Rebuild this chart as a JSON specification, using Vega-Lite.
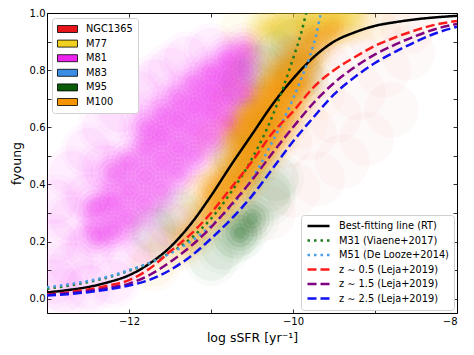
{
  "$schema": "https://vega.github.io/schema/vega-lite/v6.json",
  "width": 410,
  "height": 300,
  "autosize": {"type": "none"},
  "padding": {"left": 47, "top": 13, "right": 17, "bottom": 42},
  "background": "white",
  "config": {
    "font": "DejaVu Sans",
    "view": {"stroke": "black", "strokeWidth": 1},
    "axis": {"domain": false, "grid": false, "labelFont": "DejaVu Sans", "labelFontSize": 10, "labelColor": "black", "tickColor": "black", "tickWidth": 0.8, "titleFont": "DejaVu Sans", "titleFontWeight": "normal", "titleColor": "black"},
    "legend": {"labelFont": "DejaVu Sans", "labelFontSize": 9.8, "labelColor": "black", "fillColor": "white", "strokeColor": "#d0d0d0", "cornerRadius": 3, "title": null}
  },
  "datasets": {
    "clouds": [
      {"g": "NGC1365", "l": "f", "x": -10.3, "y": 0.3}, {"g": "NGC1365", "l": "f", "x": -10.0, "y": 0.38}, {"g": "NGC1365", "l": "f", "x": -9.7, "y": 0.42}, {"g": "NGC1365", "l": "f", "x": -9.4, "y": 0.48}, {"g": "NGC1365", "l": "f", "x": -9.1, "y": 0.56}, {"g": "NGC1365", "l": "f", "x": -8.8, "y": 0.66}, {"g": "NGC1365", "l": "f", "x": -10.1, "y": 0.55}, {"g": "NGC1365", "l": "f", "x": -9.8, "y": 0.58}, {"g": "NGC1365", "l": "f", "x": -9.5, "y": 0.64}, {"g": "NGC1365", "l": "f", "x": -9.2, "y": 0.72}, {"g": "NGC1365", "l": "f", "x": -8.9, "y": 0.8}, {"g": "NGC1365", "l": "f", "x": -8.6, "y": 0.86}, {"g": "NGC1365", "l": "f", "x": -9.9, "y": 0.75}, {"g": "NGC1365", "l": "f", "x": -9.6, "y": 0.8}, {"g": "NGC1365", "l": "f", "x": -9.3, "y": 0.87}, {"g": "NGC1365", "l": "f", "x": -9.0, "y": 0.92}, {"g": "NGC1365", "l": "f", "x": -8.6, "y": 0.95},
      {"g": "M77", "l": "h", "x": -10.6, "y": 0.95}, {"g": "M77", "l": "h", "x": -10.3, "y": 0.93}, {"g": "M77", "l": "h", "x": -10.0, "y": 0.95}, {"g": "M77", "l": "h", "x": -9.7, "y": 0.96}, {"g": "M77", "l": "h", "x": -9.4, "y": 0.97}, {"g": "M77", "l": "h", "x": -9.1, "y": 0.98},
      {"g": "M81", "l": "h", "x": -12.9, "y": 0.06}, {"g": "M81", "l": "h", "x": -12.9, "y": 0.2}, {"g": "M81", "l": "h", "x": -12.9, "y": 0.34}, {"g": "M81", "l": "h", "x": -12.7, "y": 0.12}, {"g": "M81", "l": "h", "x": -12.7, "y": 0.28}, {"g": "M81", "l": "h", "x": -12.7, "y": 0.44}, {"g": "M81", "l": "h", "x": -12.5, "y": 0.18}, {"g": "M81", "l": "h", "x": -12.5, "y": 0.36}, {"g": "M81", "l": "h", "x": -12.5, "y": 0.52}, {"g": "M81", "l": "h", "x": -12.3, "y": 0.28}, {"g": "M81", "l": "h", "x": -12.3, "y": 0.46}, {"g": "M81", "l": "h", "x": -12.3, "y": 0.6}, {"g": "M81", "l": "h", "x": -12.1, "y": 0.66}, {"g": "M81", "l": "h", "x": -11.9, "y": 0.72}, {"g": "M81", "l": "h", "x": -11.7, "y": 0.76}, {"g": "M81", "l": "h", "x": -11.5, "y": 0.8}, {"g": "M81", "l": "h", "x": -11.3, "y": 0.84}, {"g": "M81", "l": "h", "x": -11.0, "y": 0.87}, {"g": "M81", "l": "h", "x": -12.8, "y": 0.03}, {"g": "M81", "l": "h", "x": -12.5, "y": 0.04}, {"g": "M81", "l": "h", "x": -12.2, "y": 0.06}, {"g": "M81", "l": "h", "x": -12.0, "y": 0.14}, {"g": "M81", "l": "h", "x": -11.8, "y": 0.2}, {"g": "M81", "l": "h", "x": -11.5, "y": 0.26},
      {"g": "M83", "l": "f", "x": -10.0, "y": 0.83}, {"g": "M83", "l": "f", "x": -9.85, "y": 0.9},
      {"g": "M95", "l": "h", "x": -11.0, "y": 0.14}, {"g": "M95", "l": "h", "x": -10.85, "y": 0.18}, {"g": "M95", "l": "h", "x": -10.7, "y": 0.22}, {"g": "M95", "l": "h", "x": -10.3, "y": 0.38}, {"g": "M95", "l": "h", "x": -10.2, "y": 0.42}, {"g": "M95", "l": "h", "x": -10.7, "y": 0.5}, {"g": "M95", "l": "h", "x": -10.5, "y": 0.62}, {"g": "M95", "l": "h", "x": -10.6, "y": 0.76}, {"g": "M95", "l": "h", "x": -10.4, "y": 0.81}, {"g": "M95", "l": "h", "x": -10.2, "y": 0.86}, {"g": "M95", "l": "h", "x": -10.0, "y": 0.9}, {"g": "M95", "l": "h", "x": -9.9, "y": 0.78}, {"g": "M95", "l": "h", "x": -11.7, "y": 0.24}, {"g": "M95", "l": "h", "x": -11.4, "y": 0.3}, {"g": "M95", "l": "h", "x": -10.3, "y": 0.35},
      {"g": "M100", "l": "h", "x": -11.7, "y": 0.12}, {"g": "M100", "l": "h", "x": -11.5, "y": 0.18}, {"g": "M100", "l": "h", "x": -11.3, "y": 0.26}, {"g": "M100", "l": "h", "x": -11.1, "y": 0.36}, {"g": "M100", "l": "h", "x": -10.9, "y": 0.55}, {"g": "M100", "l": "h", "x": -10.7, "y": 0.68}, {"g": "M100", "l": "h", "x": -10.5, "y": 0.8}, {"g": "M100", "l": "h", "x": -10.3, "y": 0.88}, {"g": "M100", "l": "h", "x": -10.0, "y": 0.95}, {"g": "M100", "l": "h", "x": -9.7, "y": 0.97}, {"g": "M100", "l": "f", "x": -9.3, "y": 0.98}, {"g": "M100", "l": "f", "x": -8.9, "y": 0.99}, {"g": "M100", "l": "f", "x": -8.5, "y": 0.99}, {"g": "M100", "l": "f", "x": -9.9, "y": 0.62}, {"g": "M100", "l": "f", "x": -9.7, "y": 0.72},
      {"g": "M77", "l": "c", "x": -10.3, "y": 0.95}, {"g": "M77", "l": "c", "x": -10.1, "y": 0.96}, {"g": "M77", "l": "c", "x": -9.9, "y": 0.97}, {"g": "M77", "l": "c", "x": -9.7, "y": 0.98}, {"g": "M77", "l": "c", "x": -9.5, "y": 0.985}, {"g": "M77", "l": "c", "x": -9.3, "y": 0.99},
      {"g": "M81", "l": "c", "x": -12.4, "y": 0.22}, {"g": "M81", "l": "c", "x": -12.4, "y": 0.32},
      {"g": "M81", "l": "c", "x": -12.2, "y": 0.24}, {"g": "M81", "l": "c", "x": -12.2, "y": 0.34}, {"g": "M81", "l": "c", "x": -12.2, "y": 0.44},
      {"g": "M81", "l": "c", "x": -12.0, "y": 0.28}, {"g": "M81", "l": "c", "x": -12.0, "y": 0.38}, {"g": "M81", "l": "c", "x": -12.0, "y": 0.48},
      {"g": "M81", "l": "c", "x": -11.8, "y": 0.33}, {"g": "M81", "l": "c", "x": -11.8, "y": 0.43}, {"g": "M81", "l": "c", "x": -11.8, "y": 0.53}, {"g": "M81", "l": "c", "x": -11.8, "y": 0.6},
      {"g": "M81", "l": "c", "x": -11.6, "y": 0.38}, {"g": "M81", "l": "c", "x": -11.6, "y": 0.48}, {"g": "M81", "l": "c", "x": -11.6, "y": 0.57}, {"g": "M81", "l": "c", "x": -11.6, "y": 0.65},
      {"g": "M81", "l": "c", "x": -11.4, "y": 0.44}, {"g": "M81", "l": "c", "x": -11.4, "y": 0.53}, {"g": "M81", "l": "c", "x": -11.4, "y": 0.62}, {"g": "M81", "l": "c", "x": -11.4, "y": 0.7},
      {"g": "M81", "l": "c", "x": -11.2, "y": 0.5}, {"g": "M81", "l": "c", "x": -11.2, "y": 0.59}, {"g": "M81", "l": "c", "x": -11.2, "y": 0.67}, {"g": "M81", "l": "c", "x": -11.2, "y": 0.75},
      {"g": "M81", "l": "c", "x": -11.0, "y": 0.56}, {"g": "M81", "l": "c", "x": -11.0, "y": 0.65}, {"g": "M81", "l": "c", "x": -11.0, "y": 0.72}, {"g": "M81", "l": "c", "x": -11.0, "y": 0.79},
      {"g": "M81", "l": "c", "x": -10.8, "y": 0.62}, {"g": "M81", "l": "c", "x": -10.8, "y": 0.7}, {"g": "M81", "l": "c", "x": -10.8, "y": 0.77}, {"g": "M81", "l": "c", "x": -10.8, "y": 0.84},
      {"g": "M81", "l": "c", "x": -10.6, "y": 0.72}, {"g": "M81", "l": "c", "x": -10.6, "y": 0.8}, {"g": "M81", "l": "c", "x": -10.6, "y": 0.87},
      {"g": "M95", "l": "c", "x": -10.65, "y": 0.23}, {"g": "M95", "l": "c", "x": -10.5, "y": 0.28},
      {"g": "M100", "l": "c", "x": -11.3, "y": 0.2}, {"g": "M100", "l": "c", "x": -11.15, "y": 0.25}, {"g": "M100", "l": "c", "x": -11.0, "y": 0.3}, {"g": "M100", "l": "c", "x": -11.0, "y": 0.38}, {"g": "M100", "l": "c", "x": -10.85, "y": 0.34}, {"g": "M100", "l": "c", "x": -10.85, "y": 0.43}, {"g": "M100", "l": "c", "x": -10.7, "y": 0.38}, {"g": "M100", "l": "c", "x": -10.7, "y": 0.47}, {"g": "M100", "l": "c", "x": -10.7, "y": 0.56}, {"g": "M100", "l": "c", "x": -10.55, "y": 0.44}, {"g": "M100", "l": "c", "x": -10.55, "y": 0.53}, {"g": "M100", "l": "c", "x": -10.55, "y": 0.62}, {"g": "M100", "l": "c", "x": -10.4, "y": 0.5}, {"g": "M100", "l": "c", "x": -10.4, "y": 0.59}, {"g": "M100", "l": "c", "x": -10.4, "y": 0.68}, {"g": "M100", "l": "c", "x": -10.25, "y": 0.56}, {"g": "M100", "l": "c", "x": -10.25, "y": 0.65}, {"g": "M100", "l": "c", "x": -10.25, "y": 0.74}, {"g": "M100", "l": "c", "x": -10.1, "y": 0.64}, {"g": "M100", "l": "c", "x": -10.1, "y": 0.73}, {"g": "M100", "l": "c", "x": -10.1, "y": 0.82}, {"g": "M100", "l": "c", "x": -9.95, "y": 0.74}, {"g": "M100", "l": "c", "x": -9.95, "y": 0.83}, {"g": "M100", "l": "c", "x": -9.8, "y": 0.84}, {"g": "M100", "l": "c", "x": -9.8, "y": 0.91}, {"g": "M100", "l": "c", "x": -9.65, "y": 0.92}, {"g": "M100", "l": "c", "x": -9.5, "y": 0.95},
      {"g": "M100", "l": "c", "x": -10.78, "y": 0.4}, {"g": "M100", "l": "c", "x": -10.62, "y": 0.5}, {"g": "M100", "l": "c", "x": -10.47, "y": 0.56}, {"g": "M100", "l": "c", "x": -10.33, "y": 0.62}, {"g": "M100", "l": "c", "x": -10.18, "y": 0.69}, {"g": "M100", "l": "c", "x": -10.03, "y": 0.77}, {"g": "M100", "l": "c", "x": -9.88, "y": 0.86},
      {"g": "M100", "l": "c", "x": -10.92, "y": 0.33}, {"g": "M100", "l": "c", "x": -10.62, "y": 0.42}, {"g": "M100", "l": "c", "x": -10.48, "y": 0.48}, {"g": "M100", "l": "c", "x": -10.32, "y": 0.54}, {"g": "M100", "l": "c", "x": -10.62, "y": 0.6}, {"g": "M100", "l": "c", "x": -10.48, "y": 0.65}, {"g": "M100", "l": "c", "x": -10.32, "y": 0.71}, {"g": "M100", "l": "c", "x": -10.18, "y": 0.6}, {"g": "M100", "l": "c", "x": -10.18, "y": 0.77}, {"g": "M100", "l": "c", "x": -10.03, "y": 0.68}, {"g": "M100", "l": "c", "x": -9.9, "y": 0.76}
    ],
    "lines": [
      {"s": "Best-fitting line (RT)", "x": -13, "y": 0.022}, {"s": "Best-fitting line (RT)", "x": -12.75, "y": 0.03}, {"s": "Best-fitting line (RT)", "x": -12.5, "y": 0.041}, {"s": "Best-fitting line (RT)", "x": -12.25, "y": 0.058}, {"s": "Best-fitting line (RT)", "x": -12, "y": 0.082}, {"s": "Best-fitting line (RT)", "x": -11.75, "y": 0.123}, {"s": "Best-fitting line (RT)", "x": -11.5, "y": 0.18}, {"s": "Best-fitting line (RT)", "x": -11.25, "y": 0.26}, {"s": "Best-fitting line (RT)", "x": -11, "y": 0.36}, {"s": "Best-fitting line (RT)", "x": -10.75, "y": 0.47}, {"s": "Best-fitting line (RT)", "x": -10.5, "y": 0.575}, {"s": "Best-fitting line (RT)", "x": -10.25, "y": 0.68}, {"s": "Best-fitting line (RT)", "x": -10, "y": 0.77}, {"s": "Best-fitting line (RT)", "x": -9.75, "y": 0.845}, {"s": "Best-fitting line (RT)", "x": -9.5, "y": 0.9}, {"s": "Best-fitting line (RT)", "x": -9.25, "y": 0.932}, {"s": "Best-fitting line (RT)", "x": -9, "y": 0.955}, {"s": "Best-fitting line (RT)", "x": -8.75, "y": 0.968}, {"s": "Best-fitting line (RT)", "x": -8.5, "y": 0.978}, {"s": "Best-fitting line (RT)", "x": -8.25, "y": 0.985}, {"s": "Best-fitting line (RT)", "x": -8, "y": 0.99},
      {"s": "M31 (Viaene+2017)", "x": -13, "y": 0.035}, {"s": "M31 (Viaene+2017)", "x": -12.75, "y": 0.045}, {"s": "M31 (Viaene+2017)", "x": -12.5, "y": 0.058}, {"s": "M31 (Viaene+2017)", "x": -12.25, "y": 0.075}, {"s": "M31 (Viaene+2017)", "x": -12, "y": 0.098}, {"s": "M31 (Viaene+2017)", "x": -11.75, "y": 0.125}, {"s": "M31 (Viaene+2017)", "x": -11.5, "y": 0.16}, {"s": "M31 (Viaene+2017)", "x": -11.25, "y": 0.21}, {"s": "M31 (Viaene+2017)", "x": -11, "y": 0.28}, {"s": "M31 (Viaene+2017)", "x": -10.75, "y": 0.375}, {"s": "M31 (Viaene+2017)", "x": -10.5, "y": 0.49}, {"s": "M31 (Viaene+2017)", "x": -10.25, "y": 0.64}, {"s": "M31 (Viaene+2017)", "x": -10, "y": 0.84}, {"s": "M31 (Viaene+2017)", "x": -9.9, "y": 0.93}, {"s": "M31 (Viaene+2017)", "x": -9.84, "y": 1.0}, {"s": "M31 (Viaene+2017)", "x": -9.8, "y": 1.05},
      {"s": "M51 (De Looze+2014)", "x": -13, "y": 0.04}, {"s": "M51 (De Looze+2014)", "x": -12.75, "y": 0.05}, {"s": "M51 (De Looze+2014)", "x": -12.5, "y": 0.062}, {"s": "M51 (De Looze+2014)", "x": -12.25, "y": 0.078}, {"s": "M51 (De Looze+2014)", "x": -12, "y": 0.1}, {"s": "M51 (De Looze+2014)", "x": -11.75, "y": 0.125}, {"s": "M51 (De Looze+2014)", "x": -11.5, "y": 0.158}, {"s": "M51 (De Looze+2014)", "x": -11.25, "y": 0.2}, {"s": "M51 (De Looze+2014)", "x": -11, "y": 0.255}, {"s": "M51 (De Looze+2014)", "x": -10.75, "y": 0.325}, {"s": "M51 (De Looze+2014)", "x": -10.5, "y": 0.42}, {"s": "M51 (De Looze+2014)", "x": -10.25, "y": 0.55}, {"s": "M51 (De Looze+2014)", "x": -10, "y": 0.7}, {"s": "M51 (De Looze+2014)", "x": -9.9, "y": 0.77}, {"s": "M51 (De Looze+2014)", "x": -9.8, "y": 0.845}, {"s": "M51 (De Looze+2014)", "x": -9.72, "y": 0.92}, {"s": "M51 (De Looze+2014)", "x": -9.66, "y": 1.0}, {"s": "M51 (De Looze+2014)", "x": -9.62, "y": 1.05},
      {"s": "z ∼ 0.5 (Leja+2019)", "x": -13, "y": 0.015}, {"s": "z ∼ 0.5 (Leja+2019)", "x": -12.75, "y": 0.022}, {"s": "z ∼ 0.5 (Leja+2019)", "x": -12.5, "y": 0.032}, {"s": "z ∼ 0.5 (Leja+2019)", "x": -12.25, "y": 0.046}, {"s": "z ∼ 0.5 (Leja+2019)", "x": -12, "y": 0.065}, {"s": "z ∼ 0.5 (Leja+2019)", "x": -11.75, "y": 0.105}, {"s": "z ∼ 0.5 (Leja+2019)", "x": -11.5, "y": 0.165}, {"s": "z ∼ 0.5 (Leja+2019)", "x": -11.25, "y": 0.225}, {"s": "z ∼ 0.5 (Leja+2019)", "x": -11, "y": 0.3}, {"s": "z ∼ 0.5 (Leja+2019)", "x": -10.75, "y": 0.39}, {"s": "z ∼ 0.5 (Leja+2019)", "x": -10.5, "y": 0.48}, {"s": "z ∼ 0.5 (Leja+2019)", "x": -10.25, "y": 0.58}, {"s": "z ∼ 0.5 (Leja+2019)", "x": -10, "y": 0.655}, {"s": "z ∼ 0.5 (Leja+2019)", "x": -9.75, "y": 0.74}, {"s": "z ∼ 0.5 (Leja+2019)", "x": -9.5, "y": 0.8}, {"s": "z ∼ 0.5 (Leja+2019)", "x": -9.25, "y": 0.845}, {"s": "z ∼ 0.5 (Leja+2019)", "x": -9, "y": 0.885}, {"s": "z ∼ 0.5 (Leja+2019)", "x": -8.75, "y": 0.915}, {"s": "z ∼ 0.5 (Leja+2019)", "x": -8.5, "y": 0.94}, {"s": "z ∼ 0.5 (Leja+2019)", "x": -8.25, "y": 0.96}, {"s": "z ∼ 0.5 (Leja+2019)", "x": -8, "y": 0.972},
      {"s": "z ∼ 1.5 (Leja+2019)", "x": -13, "y": 0.013}, {"s": "z ∼ 1.5 (Leja+2019)", "x": -12.75, "y": 0.019}, {"s": "z ∼ 1.5 (Leja+2019)", "x": -12.5, "y": 0.027}, {"s": "z ∼ 1.5 (Leja+2019)", "x": -12.25, "y": 0.038}, {"s": "z ∼ 1.5 (Leja+2019)", "x": -12, "y": 0.053}, {"s": "z ∼ 1.5 (Leja+2019)", "x": -11.75, "y": 0.083}, {"s": "z ∼ 1.5 (Leja+2019)", "x": -11.5, "y": 0.128}, {"s": "z ∼ 1.5 (Leja+2019)", "x": -11.25, "y": 0.183}, {"s": "z ∼ 1.5 (Leja+2019)", "x": -11, "y": 0.25}, {"s": "z ∼ 1.5 (Leja+2019)", "x": -10.75, "y": 0.33}, {"s": "z ∼ 1.5 (Leja+2019)", "x": -10.5, "y": 0.415}, {"s": "z ∼ 1.5 (Leja+2019)", "x": -10.25, "y": 0.51}, {"s": "z ∼ 1.5 (Leja+2019)", "x": -10, "y": 0.6}, {"s": "z ∼ 1.5 (Leja+2019)", "x": -9.75, "y": 0.685}, {"s": "z ∼ 1.5 (Leja+2019)", "x": -9.5, "y": 0.755}, {"s": "z ∼ 1.5 (Leja+2019)", "x": -9.25, "y": 0.81}, {"s": "z ∼ 1.5 (Leja+2019)", "x": -9, "y": 0.855}, {"s": "z ∼ 1.5 (Leja+2019)", "x": -8.75, "y": 0.89}, {"s": "z ∼ 1.5 (Leja+2019)", "x": -8.5, "y": 0.92}, {"s": "z ∼ 1.5 (Leja+2019)", "x": -8.25, "y": 0.945}, {"s": "z ∼ 1.5 (Leja+2019)", "x": -8, "y": 0.962},
      {"s": "z ∼ 2.5 (Leja+2019)", "x": -13, "y": 0.011}, {"s": "z ∼ 2.5 (Leja+2019)", "x": -12.75, "y": 0.016}, {"s": "z ∼ 2.5 (Leja+2019)", "x": -12.5, "y": 0.023}, {"s": "z ∼ 2.5 (Leja+2019)", "x": -12.25, "y": 0.033}, {"s": "z ∼ 2.5 (Leja+2019)", "x": -12, "y": 0.046}, {"s": "z ∼ 2.5 (Leja+2019)", "x": -11.75, "y": 0.066}, {"s": "z ∼ 2.5 (Leja+2019)", "x": -11.5, "y": 0.1}, {"s": "z ∼ 2.5 (Leja+2019)", "x": -11.25, "y": 0.148}, {"s": "z ∼ 2.5 (Leja+2019)", "x": -11, "y": 0.21}, {"s": "z ∼ 2.5 (Leja+2019)", "x": -10.75, "y": 0.28}, {"s": "z ∼ 2.5 (Leja+2019)", "x": -10.5, "y": 0.36}, {"s": "z ∼ 2.5 (Leja+2019)", "x": -10.25, "y": 0.455}, {"s": "z ∼ 2.5 (Leja+2019)", "x": -10, "y": 0.55}, {"s": "z ∼ 2.5 (Leja+2019)", "x": -9.75, "y": 0.635}, {"s": "z ∼ 2.5 (Leja+2019)", "x": -9.5, "y": 0.715}, {"s": "z ∼ 2.5 (Leja+2019)", "x": -9.25, "y": 0.775}, {"s": "z ∼ 2.5 (Leja+2019)", "x": -9, "y": 0.825}, {"s": "z ∼ 2.5 (Leja+2019)", "x": -8.75, "y": 0.865}, {"s": "z ∼ 2.5 (Leja+2019)", "x": -8.5, "y": 0.9}, {"s": "z ∼ 2.5 (Leja+2019)", "x": -8.25, "y": 0.93}, {"s": "z ∼ 2.5 (Leja+2019)", "x": -8, "y": 0.952}
    ]
  },
  "layer": [
    {
      "data": {"name": "clouds"},
      "mark": {"type": "circle", "size": 3000, "opacity": 0.028, "clip": true},
      "encoding": {
        "x": {"field": "x", "type": "quantitative", "scale": {"domain": [-13, -8], "nice": false, "zero": false},
          "axis": {"values": [-13, -12, -11, -10, -9, -8], "labelExpr": "datum.value % 2 === 0 ? datum.label : ''", "tickSize": -4, "labelPadding": 7, "title": "log sSFR [yr⁻¹]", "titleFontSize": 12.5, "titlePadding": 5}},
        "y": {"field": "y", "type": "quantitative", "scale": {"domain": [-0.05, 1.0], "nice": false, "zero": false},
          "axis": {"values": [0, 0.1, 0.2, 0.3, 0.4, 0.5, 0.6, 0.7, 0.8, 0.9, 1], "labelExpr": "round(datum.value * 10) % 2 === 0 ? format(datum.value, '.1f') : ''", "tickSize": -4, "labelPadding": 6, "title": "fyoung", "titleFontSize": 12.5, "titlePadding": 6}},
        "fill": {"field": "g", "type": "nominal",
          "scale": {"domain": ["NGC1365", "M77", "M81", "M83", "M95", "M100"], "range": ["#e8161c", "#f2d020", "#ee22ee", "#3a8ee6", "#0a5c0a", "#f39400"]},
          "legend": {"orient": "top-left", "offset": 5, "symbolType": "M-1,-0.35H1V0.35H-1Z", "symbolSize": 400, "symbolOpacity": 1, "symbolStrokeColor": "black", "symbolStrokeWidth": 0.8, "clipHeight": 12, "rowPadding": 2.6, "labelOffset": 8, "padding": 5,
            "encode": {"symbols": {"update": {"opacity": {"value": 1}, "fillOpacity": {"value": 1}, "stroke": {"value": "black"}, "strokeWidth": {"value": 0.8}}}}}}
      }
    },
    {
      "data": {"name": "clouds"},
      "transform": [{"filter": "datum.l !== 'f'"}],
      "mark": {"type": "circle", "size": 2000, "opacity": 0.05, "clip": true},
      "encoding": {
        "x": {"field": "x", "type": "quantitative", "axis": null},
        "y": {"field": "y", "type": "quantitative", "axis": null},
        "fill": {"field": "g", "type": "nominal"}
      }
    },
    {
      "data": {"name": "clouds"},
      "transform": [{"filter": "datum.l === 'c'"}],
      "mark": {"type": "circle", "size": 1300, "opacity": 0.08, "clip": true},
      "encoding": {
        "x": {"field": "x", "type": "quantitative", "axis": null},
        "y": {"field": "y", "type": "quantitative", "axis": null},
        "fill": {"field": "g", "type": "nominal"}
      }
    },
    {
      "data": {"name": "clouds"},
      "transform": [{"filter": "datum.l === 'c'"}],
      "mark": {"type": "circle", "size": 800, "opacity": 0.1, "clip": true},
      "encoding": {
        "x": {"field": "x", "type": "quantitative", "axis": null},
        "y": {"field": "y", "type": "quantitative", "axis": null},
        "fill": {"field": "g", "type": "nominal"}
      }
    },
    {
      "data": {"name": "clouds"},
      "transform": [{"filter": "datum.l === 'c'"}],
      "mark": {"type": "circle", "size": 400, "opacity": 0.12, "clip": true},
      "encoding": {
        "x": {"field": "x", "type": "quantitative", "axis": null},
        "y": {"field": "y", "type": "quantitative", "axis": null},
        "fill": {"field": "g", "type": "nominal"}
      }
    },
    {
      "data": {"name": "clouds"},
      "transform": [{"filter": "datum.l === 'c'"}],
      "mark": {"type": "circle", "size": 150, "opacity": 0.12, "clip": true},
      "encoding": {
        "x": {"field": "x", "type": "quantitative", "axis": null},
        "y": {"field": "y", "type": "quantitative", "axis": null},
        "fill": {"field": "g", "type": "nominal"}
      }
    },
    {
      "data": {"name": "lines"},
      "mark": {"type": "line", "strokeWidth": 2.5, "clip": true, "interpolate": "monotone"},
      "encoding": {
        "x": {"field": "x", "type": "quantitative", "axis": null},
        "y": {"field": "y", "type": "quantitative", "axis": null},
        "stroke": {"field": "s", "type": "nominal",
          "scale": {"domain": ["Best-fitting line (RT)", "M31 (Viaene+2017)", "M51 (De Looze+2014)", "z ∼ 0.5 (Leja+2019)", "z ∼ 1.5 (Leja+2019)", "z ∼ 2.5 (Leja+2019)"], "range": ["#000000", "#1f7a1f", "#4a9fe8", "#ff1a1a", "#800080", "#1010f0"]},
          "legend": {"orient": "bottom-right", "offset": 3, "symbolType": "stroke", "symbolSize": 484, "symbolStrokeWidth": 2.5, "clipHeight": 12, "rowPadding": 2.5, "labelOffset": 8, "padding": 5}},
        "strokeDash": {"field": "s", "type": "nominal",
          "scale": {"domain": ["Best-fitting line (RT)", "M31 (Viaene+2017)", "M51 (De Looze+2014)", "z ∼ 0.5 (Leja+2019)", "z ∼ 1.5 (Leja+2019)", "z ∼ 2.5 (Leja+2019)"], "range": [[1, 0], [2.5, 4], [2.5, 4], [9, 4], [9, 4], [9, 4]]},
          "legend": {"orient": "bottom-right", "offset": 3, "symbolType": "stroke", "symbolSize": 484, "symbolStrokeWidth": 2.5, "clipHeight": 12, "rowPadding": 2.5, "labelOffset": 8, "padding": 5}}
      }
    },
    {
      "data": {"name": "lines"},
      "mark": {"type": "point", "opacity": 0},
      "encoding": {
        "x": {"field": "x", "type": "quantitative", "axis": {"orient": "top", "labels": false, "values": [-13, -12, -11, -10, -9, -8], "tickSize": -4, "title": null}},
        "y": {"field": "y", "type": "quantitative", "axis": {"orient": "right", "labels": false, "values": [0, 0.1, 0.2, 0.3, 0.4, 0.5, 0.6, 0.7, 0.8, 0.9, 1], "tickSize": -4, "title": null}}
      }
    }
  ],
  "resolve": {"axis": {"x": "independent", "y": "independent"}}
}
